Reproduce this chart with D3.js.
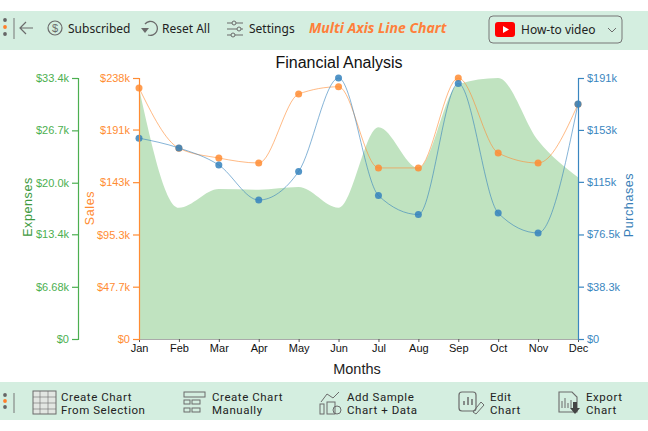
<!DOCTYPE html>
<html>
<head>
<meta charset="utf-8">
<script src="https://cdn.jsdelivr.net/npm/d3@7"></script>
<style>
  html, body { margin: 0; padding: 0; background: #fff; overflow: hidden; }
  svg { display: block; }
  text { font-family: "Liberation Sans", Arial, sans-serif; }
  .bar-text { font-family: "Noto Sans", "Open Sans", sans-serif; font-size: 12px; fill: #222; }
  .bar-text2 { font-family: Roboto, sans-serif; font-size: 11.5px; letter-spacing: 0.55px; fill: #222; }
</style>
</head>
<body>
<div id="chart"></div>
<script>
const months = ["Jan","Feb","Mar","Apr","May","Jun","Jul","Aug","Sep","Oct","Nov","Dec"];
const expenses = [32100,16800,19200,19100,19450,16800,27100,21900,32600,33400,25400,20700];
const sales = [228900,174000,165000,160500,223400,230000,156000,156000,238000,169600,160500,214000];
const purchases = [147000,139800,127300,101700,122600,191000,105000,91100,187000,92200,77600,172000];

const expenseTicks = [0,6680,13400,20000,26700,33400];
const expenseLabels = ["$0","$6.68k","$13.4k","$20.0k","$26.7k","$33.4k"];
const salesTicks = [0,47700,95300,143000,191000,238000];
const salesLabels = ["$0","$47.7k","$95.3k","$143k","$191k","$238k"];
const purchaseTicks = [0,38300,76500,115000,153000,191000];
const purchaseLabels = ["$0","$38.3k","$76.5k","$115k","$153k","$191k"];

const GREEN = "#4caf50", ORANGE = "#ff8c33", BLUE = "#3a86c0", BAND = "#d4eee0";

const width = 648, height = 431;
const margin = {left: 139, right: 70, top: 78, bottom: 92};
const plotW = width - margin.left - margin.right;
const plotH = height - margin.top - margin.bottom;

const svg = d3.select("#chart").append("svg").attr("width", width).attr("height", height);

// toolbars
svg.append("rect").attr("x", 0).attr("y", 11).attr("width", width).attr("height", 39).attr("fill", BAND);
svg.append("rect").attr("x", 0).attr("y", 382).attr("width", width).attr("height", 38).attr("fill", BAND);

const g = svg.append("g").attr("transform", "translate(" + margin.left + "," + margin.top + ")");

const x = d3.scalePoint().domain(months).range([0, plotW]);
const yExp = d3.scaleLinear().domain([0, 33400]).range([plotH, 0]);
const ySales = d3.scaleLinear().domain([0, 238000]).range([plotH, 0]);
const yPur = d3.scaleLinear().domain([0, 191000]).range([plotH, 0]);

// area for expenses
const area = d3.area()
  .x((d, i) => x(months[i]))
  .y0(plotH)
  .y1(d => yExp(d))
  .curve(d3.curveMonotoneX);
g.append("path").datum(expenses).attr("d", area).attr("fill", "#c0e3c0");

function drawLine(values, scale, color) {
  const line = d3.line()
    .x((d, i) => x(months[i]))
    .y(d => scale(d))
    .curve(d3.curveMonotoneX);
  g.append("path").datum(values).attr("d", line)
    .attr("fill", "none").attr("stroke", color).attr("stroke-width", 1).attr("opacity", 0.6);
  g.selectAll(null).data(values).enter().append("circle")
    .attr("cx", (d, i) => x(months[i]))
    .attr("cy", d => scale(d))
    .attr("r", 3.5)
    .attr("fill", color).attr("opacity", 0.85);
}
drawLine(sales, ySales, ORANGE);
drawLine(purchases, yPur, "#3582bd");

function styleAxis(sel, color) {
  sel.selectAll("path").attr("stroke", color).attr("stroke-width", 1.2);
  sel.selectAll("line").attr("stroke", color).attr("stroke-width", 1.2);
  sel.selectAll("text").attr("fill", color).style("font-size", "11px");
}

// month axis
const xAxis = g.append("g").attr("transform", "translate(0," + plotH + ")")
  .call(d3.axisBottom(x).tickSize(3).tickPadding(2));
xAxis.selectAll("path").attr("stroke", "#aaa");
xAxis.selectAll("line").attr("stroke", "#555");
xAxis.selectAll("text").attr("fill", "#111").style("font-size", "11px");

// three value axes
const salesAxis = g.append("g")
  .call(d3.axisLeft(ySales).tickValues(salesTicks).tickFormat((d, i) => salesLabels[i]).tickSizeOuter(6));
styleAxis(salesAxis, ORANGE);

const purAxis = g.append("g").attr("transform", "translate(" + plotW + ",0)")
  .call(d3.axisRight(yPur).tickValues(purchaseTicks).tickFormat((d, i) => purchaseLabels[i]).tickSizeOuter(6));
styleAxis(purAxis, BLUE);

const expAxis = g.append("g").attr("transform", "translate(-61,0)")
  .call(d3.axisLeft(yExp).tickValues(expenseTicks).tickFormat((d, i) => expenseLabels[i]).tickSizeOuter(6));
styleAxis(expAxis, GREEN);

// titles
svg.append("text").attr("x", 339).attr("y", 68).attr("text-anchor", "middle")
  .style("font-size", "16px").attr("fill", "#111").text("Financial Analysis");
svg.append("text").attr("x", 357).attr("y", 374).attr("text-anchor", "middle")
  .style("font-size", "14.5px").attr("fill", "#222").text("Months");

function axisTitle(label, px, py, color) {
  svg.append("text").attr("transform", "translate(" + px + "," + py + ") rotate(-90)")
    .attr("text-anchor", "middle").style("font-size", "12.5px").style("letter-spacing", "0.6px")
    .attr("fill", color).text(label);
}
axisTitle("Expenses", 32, 207, "#3d9a40");
axisTitle("Sales", 94, 208, ORANGE);
axisTitle("Purchases", 633, 205, "#3a7fb8");

// toolbar texts
function barText(label, px, py) {
  svg.append("text").attr("class", "bar-text").attr("x", px).attr("y", py).text(label);
}
// two line labels, roboto because its line box fits the tight stacking
function barText2(line1, line2, px) {
  const t = svg.append("text").attr("class", "bar-text2").attr("y", 400.5);
  t.append("tspan").attr("x", px).text(line1);
  t.append("tspan").attr("x", px).attr("dy", 13.6).text(line2);
}
barText("Subscribed", 68, 33);
barText("Reset All", 162, 33);
barText("Settings", 249, 33);
svg.append("text").attr("x", 309).attr("y", 33).style("font-size", "14px")
  .style("font-family", "'Open Sans', sans-serif")
  .style("font-weight", "700").style("font-style", "italic").attr("fill", "#ff7f3a")
  .text("Multi Axis Line Chart");
barText("How-to video", 521, 34);

barText2("Create Chart", "From Selection", 61);
barText2("Create Chart", "Manually", 212);
barText2("Add Sample", "Chart + Data", 347);
barText2("Edit", "Chart", 490);
barText2("Export", "Chart", 586);

// toolbar icons
const ICON = "#6b6b6b";
function stroke(sel, w) { return sel.attr("fill", "none").attr("stroke", ICON).attr("stroke-width", w || 1); }
function dots(px, py, gap) {
  [["#666", -gap], ["#ff7f2a", 0], ["#666", gap]].forEach(d => {
    svg.append("circle").attr("cx", px).attr("cy", py + d[1]).attr("r", 1.9).attr("fill", d[0]);
  });
}
function vrule(px, y0, y1) {
  svg.append("line").attr("x1", px).attr("x2", px).attr("y1", y0).attr("y2", y1).attr("stroke", "#777");
}
dots(5, 27, 7); vrule(14, 18, 39);
dots(5, 401, 6); vrule(14, 393, 413);

stroke(svg.append("path").attr("d", "M33 28H20M26 22L20 28L26 34"), 1.2);
stroke(svg.append("circle").attr("cx", 55).attr("cy", 28).attr("r", 7), 1.2);
svg.append("text").attr("x", 55).attr("y", 32).attr("text-anchor", "middle")
  .style("font-size", "11px").attr("fill", ICON).text("$");
stroke(svg.append("path").attr("d", "M145 24A7 7 0 1 1 148 35"), 1.3);
svg.append("path").attr("d", "M141 28L149 28L145 33Z").attr("fill", ICON);
stroke(svg.append("path").attr("d", "M227 23H243M227 29H243M227 35H243"), 1);
[[234, 23], [239, 29], [233, 35]].forEach(d => {
  svg.append("circle").attr("cx", d[0]).attr("cy", d[1]).attr("r", 2)
    .attr("fill", BAND).attr("stroke", ICON);
});

// how-to button
svg.append("rect").attr("x", 489).attr("y", 16).attr("width", 133).attr("height", 27).attr("rx", 4)
  .attr("fill", "none").attr("stroke", "#777");
svg.append("rect").attr("x", 495).attr("y", 22).attr("width", 20).attr("height", 15).attr("rx", 3).attr("fill", "#f00");
svg.append("path").attr("d", "M503 26L509 29.5L503 33Z").attr("fill", "#fff");
stroke(svg.append("path").attr("d", "M608 28L612 32L616 28"), 1);

// table icon
const t = svg.append("g");
t.append("rect").attr("x", 33).attr("y", 391).attr("width", 23).attr("height", 23).attr("fill", "#e2e6e2").attr("stroke", ICON);
[397, 403, 409].forEach(v => stroke(t.append("path").attr("d", "M33 " + v + "H56"), 0.6));
[40, 48].forEach(v => stroke(t.append("path").attr("d", "M" + v + " 391V414"), 0.6));

// manual icon
stroke(svg.append("rect").attr("x", 184).attr("y", 392).attr("width", 21).attr("height", 5));
[[184, 400, 6], [184, 408, 6]].forEach(d => stroke(svg.append("rect").attr("x", d[0]).attr("y", d[1]).attr("width", d[2]).attr("height", 4)));
[[192, 400, 8], [192, 408, 8]].forEach(d => stroke(svg.append("rect").attr("x", d[0]).attr("y", d[1]).attr("width", d[2]).attr("height", 4)));

// sample icon
stroke(svg.append("path").attr("d", "M321 402L327 394L333 398L339 392"), 1);
stroke(svg.append("rect").attr("x", 320).attr("y", 404).attr("width", 4).attr("height", 10));
stroke(svg.append("rect").attr("x", 327).attr("y", 402).attr("width", 8).attr("height", 12));
stroke(svg.append("circle").attr("cx", 337).attr("cy", 410).attr("r", 4));

// edit icon
stroke(svg.append("rect").attr("x", 459).attr("y", 392).attr("width", 17).attr("height", 19).attr("rx", 3), 1.2);
stroke(svg.append("path").attr("d", "M464 405V401M468 405V397M472 405V399"), 1.5);
stroke(svg.append("path").attr("d", "M473 412L481 402L484 405L476 414Z"), 1);

// export icon
stroke(svg.append("path").attr("d", "M559 392H572L577 397V412H559Z"), 1.1);
stroke(svg.append("path").attr("d", "M562 408V401M565 408V398M568 408V403M571 408V400"), 1);
svg.append("path").attr("d", "M573 402H577V408H580L575 414L570 408H573Z").attr("fill", "#444");
</script>
</body>
</html>
